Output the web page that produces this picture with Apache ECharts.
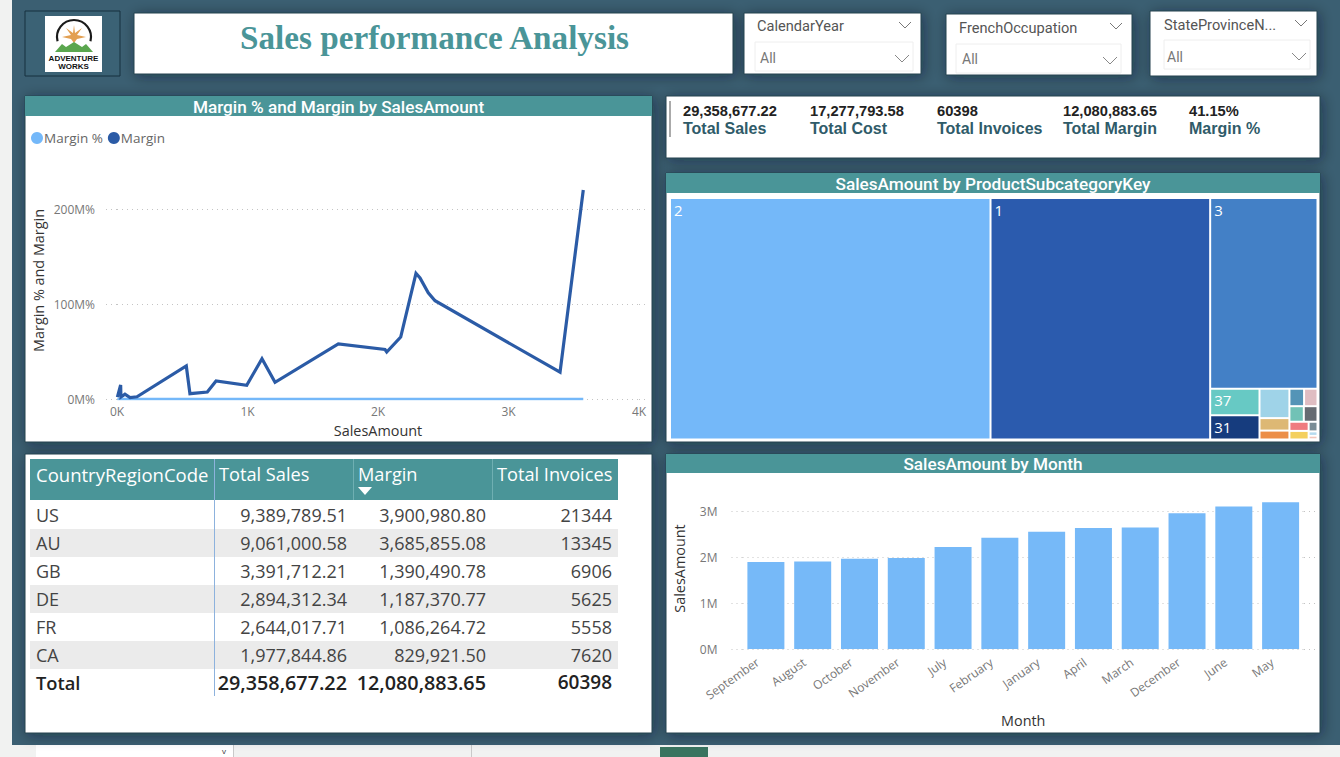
<!DOCTYPE html>
<html><head><meta charset="utf-8">
<style>html,body{margin:0;padding:0;background:#f3f3f3;overflow:hidden}#c{width:1340px;height:757px}</style>
<script src="https://cdn.jsdelivr.net/npm/echarts@6/dist/echarts.min.js"></script>
</head><body><div id="c"></div>
<script>
// ---- data ----
const salesAmount = [3,28,30,61,100,153,531,559,692,759,994,1111,1211,1696,2054,2067,2174,2291,2322,2385,2437,3395,3573];
const marginM = [2.5,15.2,2.6,5.5,2.1,2.9,35.2,6.1,7.9,19.4,14.9,42.8,18.1,58.3,52.5,49.9,65.6,132.5,127.6,112.1,103.7,28.6,220];
const marginPct = [0.41,0.41,0.41,0.41,0.41,0.41,0.41,0.41,0.41,0.41,0.41,0.41,0.41,0.41,0.41,0.41,0.41,0.41,0.41,0.41,0.41,0.41,0.41];
const months = ['September','August','October','November','July','February','January','April','March','December','June','May'];
const monthSales = [1.89,1.90,1.96,1.98,2.22,2.42,2.55,2.63,2.64,2.95,3.10,3.19];
const subKeys = ['2','1','3','37','31','','','','','','','','','','','',''];
const subValues = [14.52,9.95,3.84,0.245,0.225,0.165,0.07,0.05,0.048,0.044,0.042,0.04,0.033,0.031,0.016,0.0075,0.006];
const subColors = ['#74B8F9','#2B5BAE','#4380C6','#67C9C4','#163C7E','#9FD3E8','#DDB874','#EC8E48','#5494B7','#DFBDC2','#71C2B6','#666B72','#EF7B7F','#F4D05E','#7A8C95','#B5DAEE','#F1C6BC'];
const tableHeaders = ['CountryRegionCode','Total Sales','Margin','Total Invoices'];
const tableCodes = ['US','AU','GB','DE','FR','CA','Total'];
const tableSales = ['9,389,789.51','9,061,000.58','3,391,712.21','2,894,312.34','2,644,017.71','1,977,844.86','29,358,677.22'];
const tableMargin = ['3,900,980.80','3,685,855.08','1,390,490.78','1,187,370.77','1,086,264.72','829,921.50','12,080,883.65'];
const tableInvoices = ['21344','13345','6906','5625','5558','7620','60398'];
const kpiValues = ['29,358,677.22','17,277,793.58','60398','12,080,883.65','41.15%'];
const kpiLabels = ['Total Sales','Total Cost','Total Invoices','Total Margin','Margin %'];
const slicers = ['CalendarYear','FrenchOccupation','StateProvinceN...'];
const yTicksLine = [0,100,200];
const yTicksBar = [0,1,2,3];

// ---- layout helpers ----
const TEAL='#4A9598', UI='"Open Sans",sans-serif', DIN='Roboto,sans-serif';
const g=[];
const rect=(x,y,w,h,fill,extra)=>g.push(Object.assign({type:'rect',silent:true,shape:{x,y,width:w,height:h},style:{fill}},extra||{}));
const panel=(x,y,w,h)=>rect(x,y,w,h,'#fff',{style:{fill:'#fff',stroke:'#24414f',lineWidth:1,shadowBlur:14,shadowColor:'rgba(10,25,35,.45)',shadowOffsetX:2,shadowOffsetY:2}});
const text=(x,y,t,font,fill,align,extra)=>g.push(Object.assign({type:'text',silent:true,x,y,style:{text:t,font,fill,textAlign:align||'left',textVerticalAlign:'middle',verticalAlign:'middle'}},extra||{}));
const chev=(x,y,w,h,c)=>g.push({type:'polyline',silent:true,shape:{points:[[x,y],[x+w/2,y+h],[x+w,y]]},style:{stroke:c||'#777',lineWidth:1,fill:null}});
const titleBar=(x,y,w,h,t)=>{rect(x,y,w,h,TEAL);text(x+w/2,y+h/2+0.5,t,'500 17.2px '+DIN,'#fff','center');};

// frame
rect(0,0,1340,757,'#F1F2F1');
rect(12,0,1328,745,'#3B5F72');
rect(36,745,197,12,'#fff');
rect(233,745,1,12,'#c9c9c9');rect(471,745,1,12,'#c9c9c9');
text(224,750,'v','8px '+UI,'#333','center');
rect(660,747,48,10,'#39745F');

// logo
rect(25,11,95,65,'#3B6275',{style:{fill:'#3B6275',stroke:'#17303e',lineWidth:1}});
rect(45,16,57,56,'#fff');
g.push({type:'arc',silent:true,shape:{cx:74,cy:37,r:17,startAngle:Math.PI*0.92,endAngle:Math.PI*2.08},style:{stroke:'#1a1a1a',lineWidth:2.2,fill:null}});
g.push({type:'polygon',silent:true,shape:{points:[[74,25],[75,33],[82,28],[77,35],[86,37],[77,39],[74,43],[71,39],[62,37],[71,35],[66,28],[73,33]]},style:{fill:'#E3A052'}});
g.push({type:'polygon',silent:true,shape:{points:[[55,52],[62,44],[66,47],[74,42],[82,47],[86,44],[93,52]]},style:{fill:'#5AA64E'}});
text(73.5,58,'ADVENTURE','bold 8px "Liberation Sans"','#111','center');
text(73.5,66,'WORKS','bold 8px "Liberation Sans"','#111','center');

// title
panel(134,13,599,61);
text(434.5,37.5,'Sales performance Analysis','bold 33.2px "Liberation Serif"',TEAL,'center');

// slicers: panel x,y,w,h, label x,y, box x,y,w,h, "All" x,y
[[744,13,177,61,757,26,755,42,158,29,760,58],[946,14,186,61,959,28,956,44,165,29,962,59],[1150,11,167,65,1164,25,1164,40,146,29,1167,57]].forEach((s,i)=>{
  panel(s[0],s[1],s[2],s[3]);
  text(s[4],s[5],slicers[i],'14.6px '+DIN,'#555');
  rect(s[6],s[7],s[8],s[9],'#fff',{style:{fill:'#fff',stroke:'#eeeeee',lineWidth:1}});
  text(s[10],s[11],'All','14px '+DIN,'#777');
  chev(s[0]+s[2]-22,s[1]+9,12,6,'#777');
  chev(s[6]+s[8]-18,s[7]+13,14,7,'#888');
});

// main panels
panel(25,96,627,346); titleBar(25,96,627,20,'Margin % and Margin by SalesAmount');
panel(666,96,654,62);
panel(666,173,654,269); titleBar(666,173,654,20,'SalesAmount by ProductSubcategoryKey');
panel(25,454,627,279);
panel(666,454,654,279); titleBar(666,454,654,19,'SalesAmount by Month');

// KPI card
rect(669,101,2,36,'#aaa');
[683,810,937,1063,1189].forEach((x,i)=>{
  text(x,110.5,kpiValues[i],'bold 14.7px "Liberation Sans"','#222');
  text(x,128.5,kpiLabels[i],'bold 16px "Liberation Sans"','#2F5B69');
});

// table
rect(30,459,588,41,TEAL);
[353,492].forEach(x=>rect(x,459,1,41,'#6FAFB2'));
const colRight=[0,347,486,612];
text(36,474,tableHeaders[0],'18.5px '+UI,'#fff');
text(219,474,tableHeaders[1],'18.2px '+UI,'#fff');
text(358,474,tableHeaders[2],'18.2px '+UI,'#fff');
text(497,474,tableHeaders[3],'18.2px '+UI,'#fff');
g.push({type:'polygon',silent:true,shape:{points:[[358,487],[372,487],[365,495]]},style:{fill:'#fff'}});
[1,3,5].forEach(i=>rect(30,501+i*28,588,28,'#EBEBEB'));
tableCodes.forEach((c,i)=>{
  const last=i===tableCodes.length-1, y=515+i*28-(last?1:0);
  const col=last?'#222':'#444';
  text(36,y,c,(last?'600 18.3px ':'18px ')+UI,col);
  text(colRight[1],y,tableSales[i],(last?'600 19.8px ':'18px ')+UI,col,'right');
  text(colRight[2],y,tableMargin[i],(last?'600 19.8px ':'18px ')+UI,col,'right');
  text(colRight[3],y,tableInvoices[i],(last?'600 19px ':'18px ')+UI,col,'right');
});
rect(214,459,1,237,'#8DB2DD');

const dotted={type:[1,4],color:'#c4c4c4',width:1};
const axisFont={fontFamily:UI,fontSize:12,color:'#777'};
const nameFont={fontFamily:UI,fontSize:14.4,color:'#333'};

const option={
  animation:false,
  graphic:{elements:g},
  legend:{left:26,top:126,icon:'circle',itemWidth:12,itemHeight:12,itemGap:5,data:['Margin %','Margin'],
    textStyle:{fontFamily:UI,fontSize:13.5,color:'#666',padding:[0,0,0,-4]}},
  grid:[
    {left:117,top:161.4,width:522,height:238.1},
    {left:742.5,top:488,width:561.5,height:161}
  ],
  xAxis:[
    {gridIndex:0,type:'value',min:0,max:4000,interval:1000,name:'SalesAmount',nameLocation:'middle',nameGap:24,nameTextStyle:nameFont,
     axisLine:{show:false},axisTick:{show:false},splitLine:{show:false},
     axisLabel:Object.assign({margin:6,formatter:v=>(v/1000)+'K'},axisFont)},
    {gridIndex:1,type:'category',data:months,name:'Month',nameLocation:'middle',nameGap:64,nameTextStyle:nameFont,
     axisLine:{show:false},axisTick:{show:false},
     axisLabel:Object.assign({rotate:35,margin:6,interval:0,padding:[0,10,0,0]},axisFont)}
  ],
  yAxis:[
    {gridIndex:0,type:'value',min:0,max:250,name:'Margin % and Margin',nameLocation:'middle',nameGap:72,nameTextStyle:nameFont,
     axisLine:{show:false},axisTick:{show:true,length:11,lineStyle:dotted,customValues:yTicksLine},
     splitLine:{show:true,lineStyle:dotted},
     axisLabel:Object.assign({margin:22,customValues:yTicksLine,formatter:v=>v+'M%'},axisFont)},
    {gridIndex:0,type:'value',position:'right',min:0,max:250,axisLine:{show:false},axisLabel:{show:false},splitLine:{show:false},
     axisTick:{show:true,length:9,lineStyle:dotted,customValues:yTicksLine}},
    {gridIndex:1,type:'value',min:0,max:3.5,name:'SalesAmount',nameLocation:'middle',nameGap:56,nameTextStyle:nameFont,
     axisLine:{show:false},axisTick:{show:true,length:12,lineStyle:dotted,customValues:yTicksBar},
     splitLine:{show:true,lineStyle:dotted},
     axisLabel:Object.assign({margin:25,customValues:yTicksBar,formatter:v=>v+'M'},axisFont)},
    {gridIndex:1,type:'value',position:'right',min:0,max:3.5,axisLine:{show:false},axisLabel:{show:false},splitLine:{show:false},
     axisTick:{show:true,length:12,lineStyle:dotted,customValues:yTicksBar}}
  ],
  series:[
    {name:'Margin %',type:'line',xAxisIndex:0,yAxisIndex:0,symbol:'none',color:'#74B8F9',lineStyle:{width:2.5,color:'#74B8F9'},
     data:salesAmount.map((x,i)=>[x,marginPct[i]])},
    {name:'Margin',type:'line',xAxisIndex:0,yAxisIndex:0,symbol:'none',color:'#2B5BA6',lineStyle:{width:3.2,color:'#2B5BA6',join:'miter'},
     data:salesAmount.map((x,i)=>[x,marginM[i]])},
    {name:'SalesAmount',type:'bar',xAxisIndex:1,yAxisIndex:2,barWidth:37,itemStyle:{color:'#76B9F8'},data:monthSales},
    {name:'SalesAmount by ProductSubcategoryKey',type:'treemap',left:671,top:199,width:645.5,height:239.5,
     roam:false,nodeClick:false,breadcrumb:{show:false},sort:'desc',visibleMin:0,
     itemStyle:{gapWidth:2,borderWidth:0,borderColor:'#fff'},
     levels:[{itemStyle:{gapWidth:2,borderWidth:0,borderColor:'#fff'}}],
     label:{show:true,position:'insideTopLeft',formatter:'{b}',color:'#fff',fontFamily:UI,fontSize:15,padding:[3,3]},
     data:subValues.map((v,i)=>({name:subKeys[i],value:v,itemStyle:{color:subColors[i]}}))}
  ]
};
const chart=echarts.init(document.getElementById('c'),null,{renderer:'svg',width:1340,height:757});
chart.setOption(option);
</script></body></html>
